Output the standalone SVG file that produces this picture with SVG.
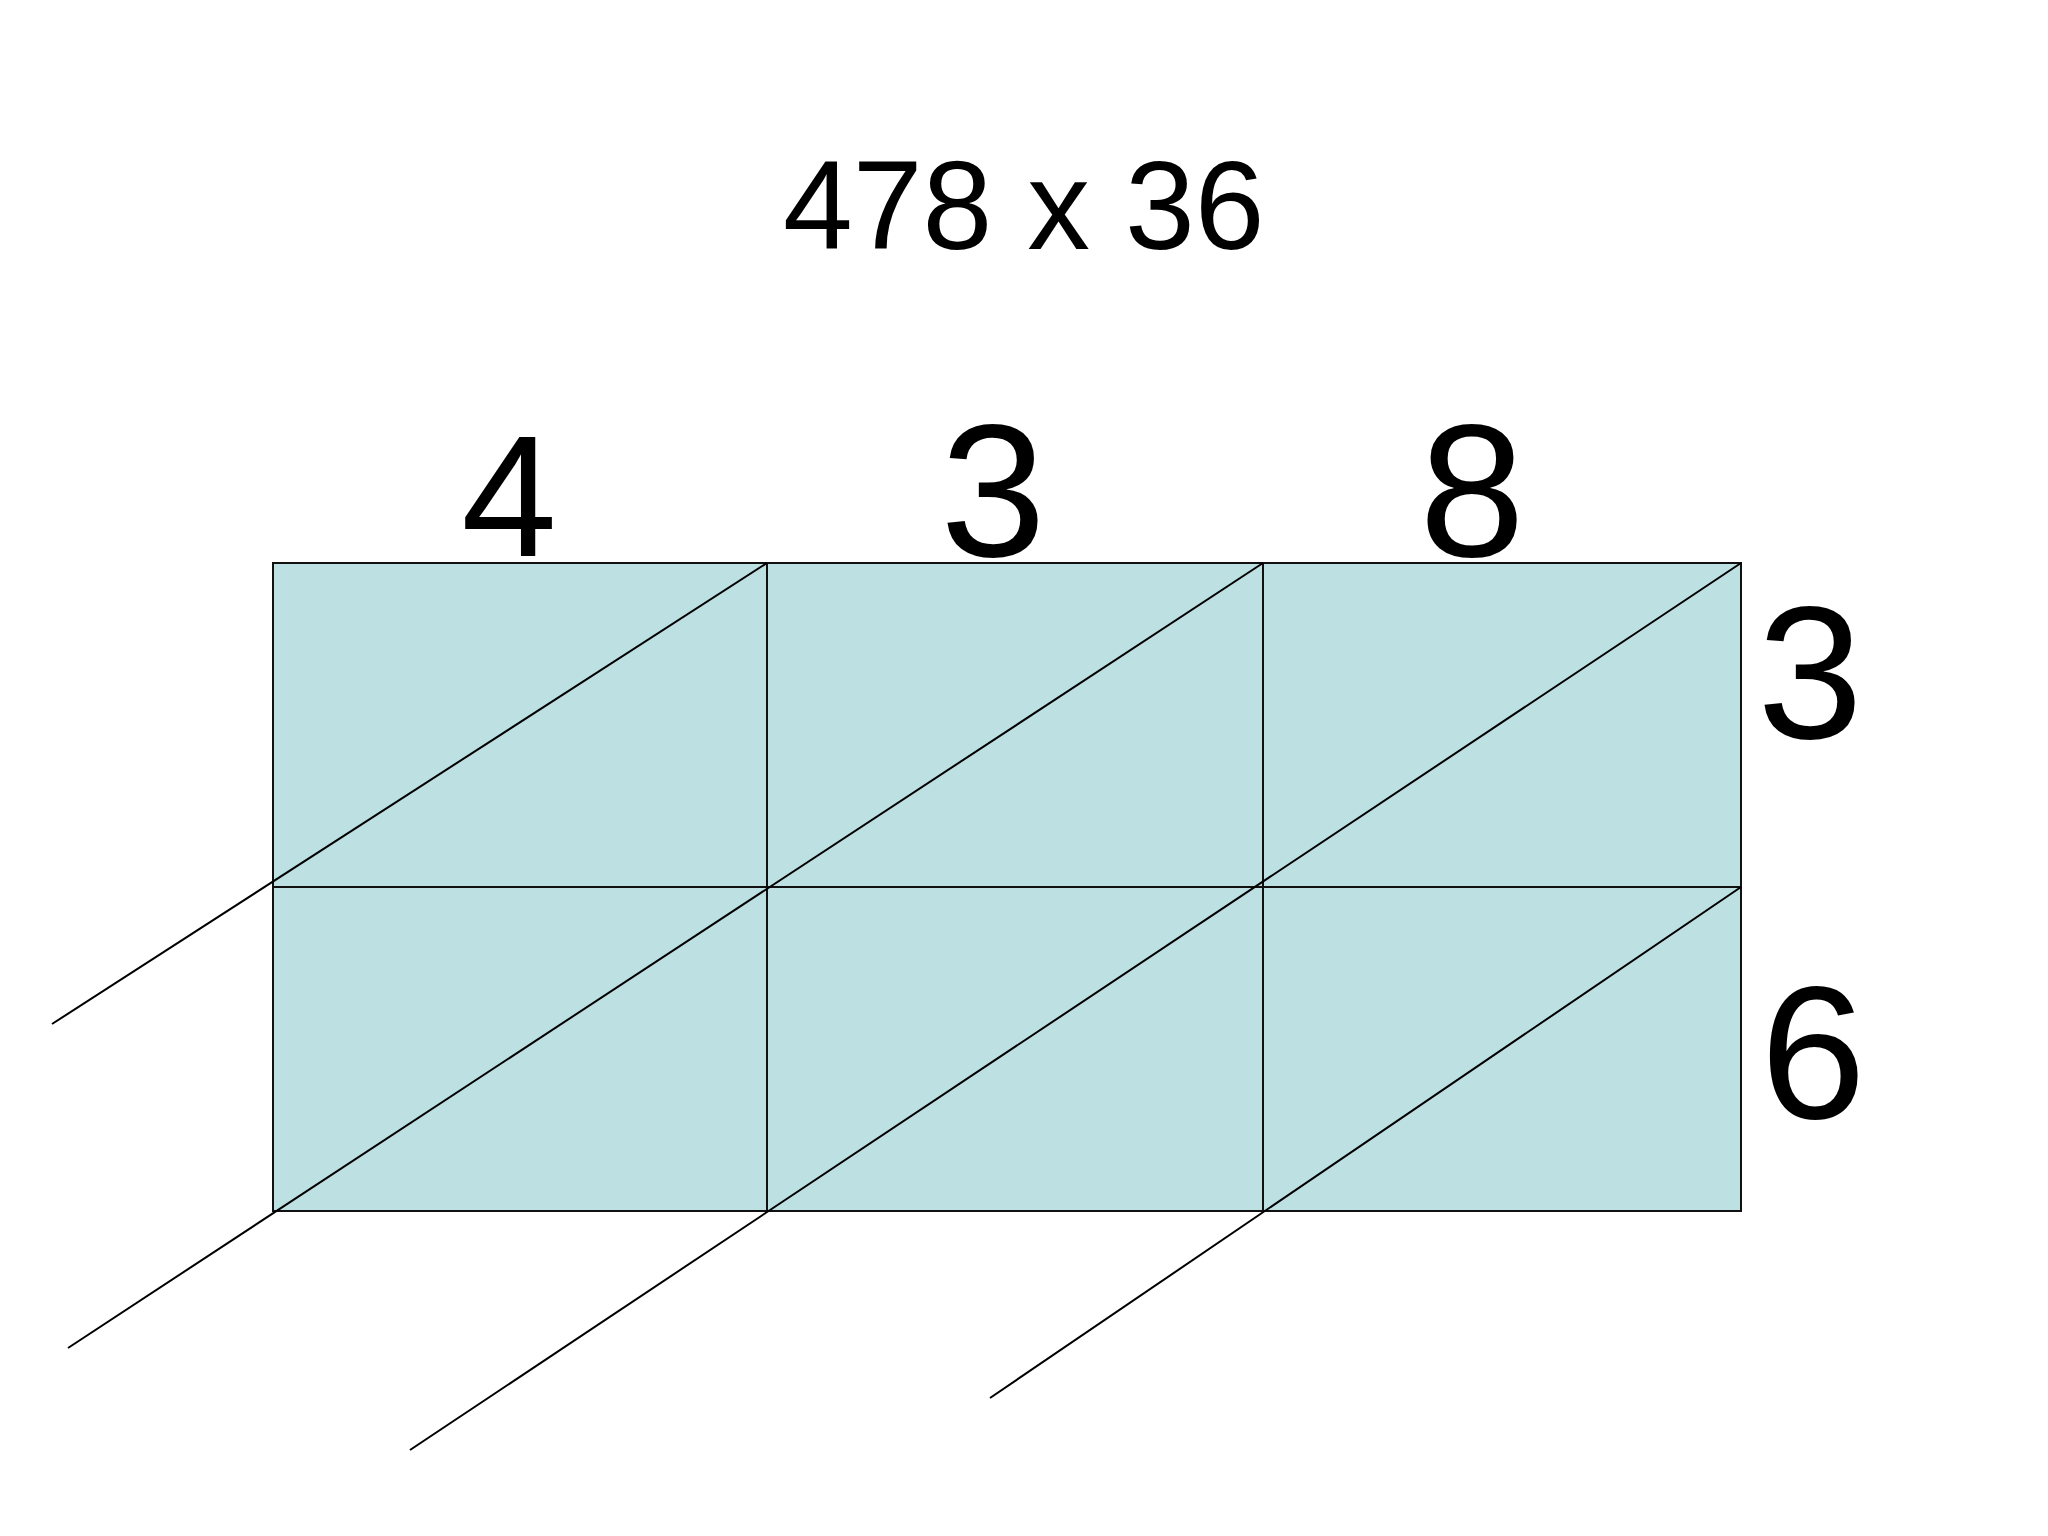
<svg xmlns="http://www.w3.org/2000/svg" width="2048" height="1536" viewBox="0 0 2048 1536">
  <style>
    .cell { fill: #bde0e3; stroke: #111; stroke-width: 2; }
    .diag { stroke: #000; stroke-width: 2; fill: none; stroke-linecap: butt; }
    .num { font-family: "Liberation Sans", Arial, sans-serif; fill: #000; text-anchor: middle; }
  </style>
  <rect width="2048" height="1536" fill="#ffffff"/>
  <g id="title">
    <text x="783" y="249" font-family="Liberation Sans, Arial, sans-serif" font-size="125.5" fill="#000">478 x 36</text>
  </g>
  <g id="cells">
    <g id="cell-r1c1"><rect class="cell" x="273" y="563" width="494" height="324"/></g>
    <g id="cell-r1c2"><rect class="cell" x="767" y="563" width="496" height="324"/></g>
    <g id="cell-r1c3"><rect class="cell" x="1263" y="563" width="478" height="324"/></g>
    <g id="cell-r2c1"><rect class="cell" x="273" y="887" width="494" height="324"/></g>
    <g id="cell-r2c2"><rect class="cell" x="767" y="887" width="496" height="324"/></g>
    <g id="cell-r2c3"><rect class="cell" x="1263" y="887" width="478" height="324"/></g>
  </g>
  <g id="connectors">
    <line class="diag" x1="767" y1="563" x2="52" y2="1024"/>
    <line class="diag" x1="1263" y1="563" x2="68" y2="1348"/>
    <line class="diag" x1="1741" y1="563" x2="410" y2="1450"/>
    <line class="diag" x1="1741" y1="887" x2="990" y2="1398"/>
  </g>
  <g id="digit-4"><text class="num" x="509" y="556" font-size="172">4</text></g>
  <g id="digit-3-top"><text class="num" x="993" y="556" font-size="190">3</text></g>
  <g id="digit-8"><text class="num" x="1472" y="556" font-size="190">8</text></g>
  <g id="digit-3-right"><text class="num" x="1810" y="738" font-size="190">3</text></g>
  <g id="digit-6"><text class="num" x="1813" y="1118" font-size="190">6</text></g>
</svg>
